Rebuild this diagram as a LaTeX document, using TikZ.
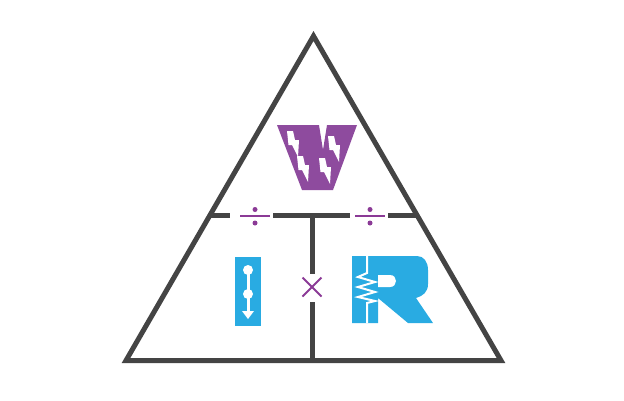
\documentclass[tikz,border=0pt]{standalone}
\usetikzlibrary{calc}
\definecolor{frameGray}{RGB}{68,68,68}
\definecolor{voltPurple}{RGB}{142,75,158}
\definecolor{opPurple}{RGB}{139,58,150}
\definecolor{ampBlue}{RGB}{41,171,226}

\begin{document}
\begin{tikzpicture}[
    x=1pt, y=-1pt,
    frame/.style={draw=frameGray, line width=5pt},
    op/.style={draw=opPurple, line width=2pt},
    opdot/.style={fill=opPurple},
    wire/.style={draw=white, line width=3pt},
    bolt/.pic={\fill[white] (0,0) -- (6,0) -- (8,9) -- (12,9) -- (11,26) -- (5,14) -- (1.5,14) -- cycle;},
]
    \useasboundingbox (0,0) rectangle (624,400);

    \coordinate (apex) at (313.5,36);
    \coordinate (baseL) at (126,360.5);
    \coordinate (baseR) at (501,360.5);
    \coordinate (barL) at (209,215);
    \coordinate (barR) at (418,215);
    \coordinate (barM) at (312.5,215);
    \coordinate (stemB) at (312.5,360.5);
    \coordinate (divL) at (255,216);
    \coordinate (divR) at (370,216);
    \coordinate (mul) at (312,287);

    \draw[frame] (apex) -- (baseL) -- (baseR) -- cycle;
    \draw[frame] (barL) -- (230,215);
    \draw[frame] (273,215) -- (350,215);
    \draw[frame] (388,215) -- (barR);
    \draw[frame] (barM) -- (312.5,274);
    \draw[frame] (312.5,302) -- (stemB);

    \foreach \d in {divL,divR} {
        \draw[op] ($(\d)+(-15,0)$) -- ($(\d)+(15,0)$);
        \fill[opdot] ($(\d)+(0,-6.5)$) circle (2.5);
        \fill[opdot] ($(\d)+(0,7)$) circle (2.5);
    }
    \draw[op] ($(mul)+(-9.5,-9.5)$) -- ($(mul)+(9.5,9.5)$);
    \draw[op] ($(mul)+(-9.5,9.5)$) -- ($(mul)+(9.5,-9.5)$);

    % V
    \fill[voltPurple] (277,125) -- (319,125) -- (323,150) -- (327,125) -- (357,125)
        -- (333,190) -- (302,190) -- cycle;
    \pic at (287,131) {bolt};
    \pic at (297,156) {bolt};
    \pic at (328,136) {bolt};
    \pic at (319,158) {bolt};

    % I
    \begin{scope}[shift={(235,257)}]
        \fill[ampBlue] (0,0) rectangle (26,69);
        \draw[wire] (13,13) -- (13,57);
        \fill[white] (13,13) circle (5);
        \fill[white] (13,37) circle (5);
        \fill[white] (7,54) -- (19,54) -- (13,62) -- cycle;
    \end{scope}

    % R
    \begin{scope}[shift={(352,256)}]
        \fill[ampBlue] (0,0) -- (65,0) .. controls (72,0) and (76,6) .. (76,14) -- (76,28)
            .. controls (76,36) and (71,40) .. (64,42) -- (81,67) -- (56,67) -- (26,42)
            -- (26,67) -- (0,67) -- cycle;
        \fill[white] (26,19) -- (38,19) .. controls (42,19) and (44,22) .. (44,25)
            .. controls (44,28) and (42,31) .. (38,31) -- (26,31) -- cycle;
        \draw[white, line width=2pt] (15,0) -- (15,17) -- (6,21) -- (23,26) -- (6,31)
            -- (23,36) -- (6,41) -- (23,45) -- (15,47) -- (15,67);
    \end{scope}

\end{tikzpicture}
\end{document}
